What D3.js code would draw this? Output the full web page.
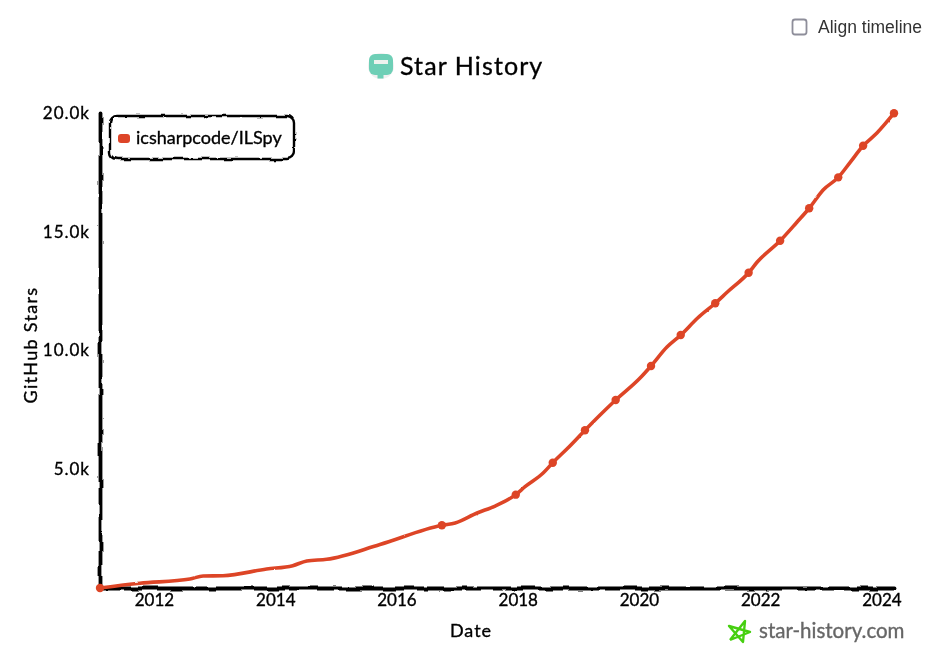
<!DOCTYPE html>
<html><head><meta charset="utf-8">
<script src="https://cdn.jsdelivr.net/npm/d3@7"></script>
<style>
html,body{margin:0;padding:0;background:#fff;overflow:hidden}
text{font-family:Lato,"Noto Sans",sans-serif;fill:#000;stroke:#000;stroke-width:.35px}
</style></head><body>
<svg id="c" width="947" height="649"></svg>
<script>
const seriesName = "icsharpcode/ILSpy";
const chartTitle = "Star History";
const xAxisName = "Date";
const yAxisName = "GitHub Stars";
const brandText = "star-history.com";
const toggleText = "Align timeline";
const dates = ["2011-02-10","2011-10-08","2012-08-05","2012-10-23","2013-02-20","2013-11-10","2014-04-16","2014-07-10","2014-11-07","2015-09-24","2016-10-01","2016-12-20","2017-05-01","2017-08-18","2017-12-20","2018-02-14","2018-06-03","2018-07-31","2018-10-30","2019-02-10","2019-05-12","2019-08-14","2020-01-08","2020-03-14","2020-06-18","2020-09-09","2020-12-20","2021-04-05","2021-06-17","2021-10-23","2021-12-14","2022-05-01","2022-08-11","2022-10-23","2023-01-15","2023-04-16","2023-06-28","2023-09-13","2023-12-05","2024-03-17"];
const stars = [0,198,380,505,518,800,939,1137,1208,1831,2640,2737,3158,3452,3930,4265,4842,5275,5894,6640,7283,7915,8841,9350,10146,10650,11367,11990,12462,13275,13725,14620,15410,15990,16760,17290,17935,18620,19155,19990];
const markerIdx = [0,10,14,17,19,21,23,25,27,29,31,33,35,37,39];
const xTickYears = [2012,2014,2016,2018,2020,2022,2024];
const yTicks = [5000,10000,15000,20000];
const red = "#dd4528";

const svg = d3.select("#c");
const defs = svg.append("defs");
function rough(id,freq,scale,seed){
  const f = defs.append("filter").attr("id",id).attr("filterUnits","userSpaceOnUse")
    .attr("x",-1000).attr("y",-1000).attr("width",3000).attr("height",3000);
  f.append("feTurbulence").attr("type","fractalNoise").attr("baseFrequency",freq).attr("numOctaves",2).attr("seed",seed).attr("result","n");
  f.append("feDisplacementMap").attr("in","SourceGraphic").attr("in2","n").attr("scale",scale).attr("xChannelSelector","R").attr("yChannelSelector","G");
}
rough("axisF",0.05,5,4);
rough("lineF",0.15,1.6,7);
rough("boxF",0.07,4,11);
rough("textF",0.25,1.3,3);

const parse = d3.utcParse("%Y-%m-%d");
const pts = dates.map((d,i)=>({t:parse(d),v:stars[i]}));
const x = d3.scaleUtc().domain([pts[0].t,pts[pts.length-1].t]).range([100,894]);
const y = d3.scaleLinear().domain([0,20000]).range([588,113]);

// axes
const xa = d3.axisBottom(x).tickValues(xTickYears.map(v=>new Date(Date.UTC(v,0,1)))).tickFormat(d3.utcFormat("%Y")).tickSize(0).tickPadding(6).tickSizeOuter(0);
const ya = d3.axisLeft(y).tickValues(yTicks).tickFormat(d=>(d/1000).toFixed(1)+"k").tickSize(0).tickPadding(10).tickSizeOuter(0);
const gx = svg.append("g").attr("transform","translate(0,588)").call(xa);
const gy = svg.append("g").attr("transform","translate(100,0)").call(ya);
[gx,gy].forEach(g=>{
  g.attr("font-family",null).attr("font-size",null);
  g.select(".domain").attr("stroke","#000").attr("stroke-width",3.8).attr("filter","url(#axisF)").attr("stroke-linecap","round");
  g.selectAll("text").attr("font-size",17).attr("fill","#000").attr("filter","url(#textF)");
});
gy.selectAll("text").attr("letter-spacing",1);

// line
const line = d3.line().x(d=>x(d.t)).y(d=>y(d.v)).curve(d3.curveMonotoneX);
const gl = svg.append("g").attr("filter","url(#lineF)");
gl.append("path").datum(pts).attr("d",line).attr("fill","none").attr("stroke",red).attr("stroke-width",3.6).attr("stroke-linecap","round");
gl.selectAll("circle").data(markerIdx.map(i=>pts[i])).join("circle")
  .attr("cx",d=>x(d.t)).attr("cy",d=>y(d.v)).attr("r",4.2).attr("fill",red);

// titles
const T = svg.append("g").attr("filter","url(#textF)");
T.append("text").attr("x",400).attr("y",75).attr("font-size",25).attr("letter-spacing",1.1).text(chartTitle);
T.append("text").attr("x",471).attr("y",637).attr("text-anchor","middle").attr("font-size",18).attr("letter-spacing",1).text(xAxisName);
T.append("text").attr("transform","translate(37,345) rotate(-90)").attr("text-anchor","middle").attr("font-size",18).attr("letter-spacing",1.3).text(yAxisName);
T.append("text").attr("x",759).attr("y",638).attr("font-size",20.5).style("fill","#666").style("stroke","#666").text(brandText);
T.append("text").attr("x",136).attr("y",144).attr("font-size",18).text(seriesName);

// legend
svg.append("rect").attr("x",110).attr("y",116).attr("width",184).attr("height",43).attr("rx",7)
  .attr("fill","none").attr("stroke","#000").attr("stroke-width",2.4).attr("filter","url(#boxF)");
svg.append("rect").attr("x",118).attr("y",134).attr("width",12).attr("height",9).attr("rx",3).attr("fill",red);

// logo
const logo = svg.append("g");
logo.append("circle").attr("cx",381).attr("cy",66).attr("r",13).attr("fill","#f0f0f0");
logo.append("rect").attr("x",377.5).attr("y",72).attr("width",6).attr("height",6.5).attr("fill","#6ecfb6");
logo.append("rect").attr("x",369).attr("y",54).attr("width",24).attr("height",21).attr("rx",6).attr("fill","#6ecfb6");
logo.append("rect").attr("x",374).attr("y",60).attr("width",14).attr("height",4).attr("fill","#eef2ee");

// brand star
const starPts = [[730,640],[745,621],[743,642],[729,626],[750,632],[730,640]];
svg.append("path").attr("d",d3.line()(starPts)).attr("fill","none").attr("stroke","#46cf10").attr("stroke-width",2.4).attr("stroke-linejoin","round");

// toggle
svg.append("rect").attr("x",792.5).attr("y",19.5).attr("width",14).attr("height",15).attr("rx",2.5).attr("fill","#fff").attr("stroke","#8e8e9a").attr("stroke-width",1.8);
svg.append("text").attr("x",818).attr("y",33).attr("font-size",17.5).style("font-family","'Liberation Sans',Arial,sans-serif").style("stroke","none").style("fill","#333").text(toggleText);
</script></body></html>
